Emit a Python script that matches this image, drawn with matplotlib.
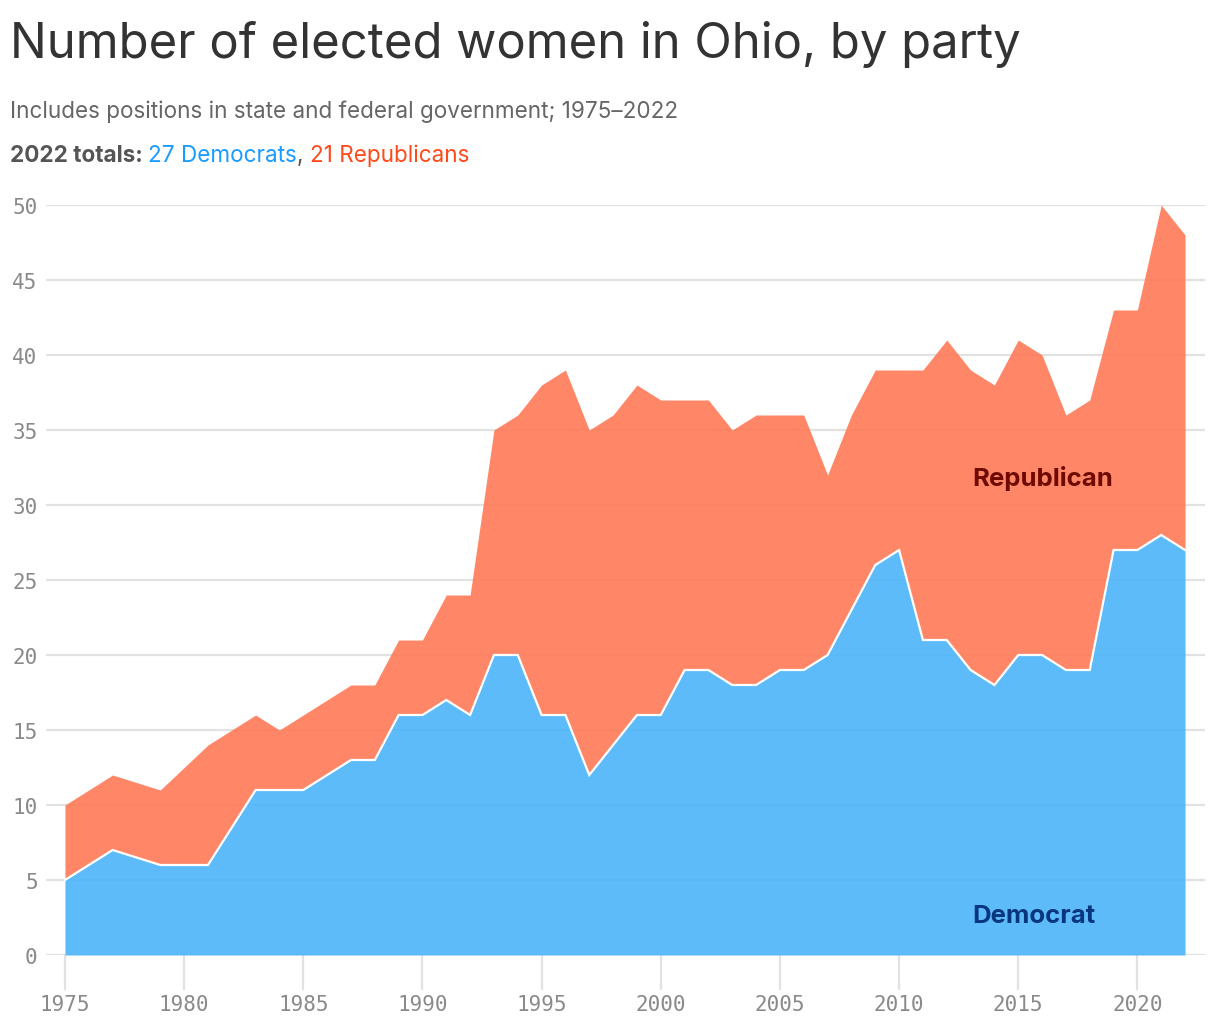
import matplotlib
matplotlib.use("Agg")
import matplotlib.pyplot as plt

years = [1975, 1977, 1979, 1981, 1983, 1984, 1985, 1987, 1988, 1989, 1990,
         1991, 1992, 1993, 1994, 1995, 1996, 1997, 1998, 1999, 2000, 2001,
         2002, 2003, 2004, 2005, 2006, 2007, 2008, 2009, 2010, 2011, 2012,
         2013, 2014, 2015, 2016, 2017, 2018, 2019, 2020, 2021, 2022]
democrats = [5, 7, 6, 6, 11, 11, 11, 13, 13, 16, 16,
             17, 16, 20, 20, 16, 16, 12, 14, 16, 16, 19,
             19, 18, 18, 19, 19, 20, 23, 26, 27, 21, 21,
             19, 18, 20, 20, 19, 19, 27, 27, 28, 27]
totals = [10, 12, 11, 14, 16, 15, 16, 18, 18, 21, 21,
          24, 24, 35, 36, 38, 39, 35, 36, 38, 37, 37,
          37, 35, 36, 36, 36, 32, 36, 39, 39, 39, 41,
          39, 38, 41, 40, 36, 37, 43, 43, 50, 48]
republicans = [t - d for t, d in zip(totals, democrats)]

x_ticks = [1975, 1980, 1985, 1990, 1995, 2000, 2005, 2010, 2015, 2020]
y_ticks = [0, 5, 10, 15, 20, 25, 30, 35, 40, 45, 50]

W, H = 1220, 1020
fig = plt.figure(figsize=(W / 100, H / 100), dpi=100)
fig.patch.set_facecolor("white")

ax = fig.add_axes([46 / W, (H - 956) / H, (1205 - 46) / W, 750 / H])
ax.set_xlim(1975 - 19 / 23.89, 2022 + 20 / 23.89)
ax.set_ylim(0, 50)

grid_c = "#e2e2e2"
for yv in y_ticks:
    ax.axhline(yv, color=grid_c, lw=1.6, zorder=0)

blue = "#4cb4fa"
red = "#ff7a58"
ax.fill_between(years, 0, democrats, color=blue, alpha=0.9, lw=0, zorder=2)
ax.fill_between(years, democrats, totals, color=red, alpha=0.9, lw=0, zorder=2)
ax.plot(years, democrats, color="white", lw=1.6, zorder=3, solid_joinstyle="miter")

for s in ax.spines.values():
    s.set_visible(False)

mono = "DejaVu Sans Mono"
ax.set_xticks(x_ticks)
ax.set_xticklabels([str(v) for v in x_ticks], family=mono, fontsize=15, color="#8a8a8a")
ax.set_yticks(y_ticks)
ax.set_yticklabels([str(v) for v in y_ticks], family=mono, fontsize=15, color="#8a8a8a")
ax.tick_params(axis="x", length=25, width=1.6, color=grid_c, pad=3)
ax.tick_params(axis="y", length=0, pad=6)

lab_font = "Inter"
ax.text(2013.05, 31.8, "Republican", family=lab_font, fontsize=18.5, fontweight="bold",
        color="#6e0a00", va="center", ha="left", zorder=4)
ax.text(2013.05, 2.6, "Democrat", family=lab_font, fontsize=18.5, fontweight="bold",
        color="#07367f", va="center", ha="left", zorder=4)

fig.text(10 / W, 1 - 44 / H, "Number of elected women in Ohio, by party", family=lab_font,
         fontsize=35.3, color="#333333", va="center", ha="left")
fig.text(10 / W, 1 - 112 / H, "Includes positions in state and federal government; 1975\u20132022",
         family=lab_font, fontsize=16.2, color="#666666", va="center", ha="left")

fig.canvas.draw()
renderer = fig.canvas.get_renderer()
xpos = 10
y2 = 1 - 156 / H
parts = [("2022 totals: ", "#555555", "bold"), ("27 Democrats", "#1a9bff", "normal"),
         (", ", "#555555", "normal"), ("21 Republicans", "#ff4a1c", "normal")]
for txt, col, fw in parts:
    t = fig.text(xpos / W, y2, txt, family=lab_font, fontsize=16.2, color=col,
                 fontweight=fw, va="center", ha="left")
    bb = t.get_window_extent(renderer)
    xpos += bb.width

fig.savefig("out.png", dpi=100, facecolor="white")
